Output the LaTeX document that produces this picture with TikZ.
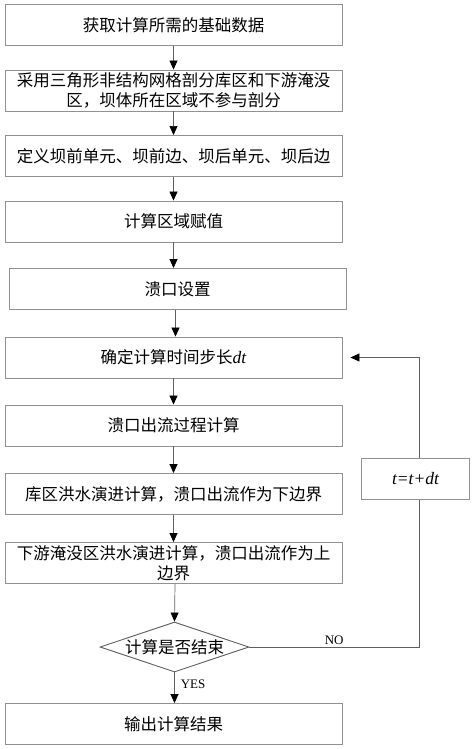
\documentclass[tikz,border=0pt]{standalone}
\usepackage{fontspec}
\setmainfont{Liberation Serif}
\newfontfamily\cjk{Noto Sans CJK SC}
\usepackage{xcolor}
\definecolor{fcgray}{RGB}{145,145,145}
\definecolor{fcline}{RGB}{95,95,95}
\usepackage{tikz}
\usetikzlibrary{arrows.meta, positioning, shapes.geometric}

\begin{document}
\begin{tikzpicture}[x=1pt, y=-1pt,
  fbox/.style={rectangle, draw=fcgray, line width=0.9pt, minimum width=337pt,
               minimum height=41pt, inner sep=0pt, align=center,
               font=\cjk\fontsize{16.5}{19.5}\selectfont},
  fdec/.style={diamond, draw=fcline, line width=0.9pt, aspect=3, inner sep=0pt,
               minimum width=149pt, minimum height=50pt,
               font=\cjk\fontsize{16.5}{19.5}\selectfont},
  farr/.style={draw=fcline, line width=0.7pt,
               -{Triangle[length=9pt, width=8pt, color=black]}},
  fline/.style={draw=fcline, line width=0.9pt},
  flbl/.style={font=\fontsize{13}{15}\selectfont, inner sep=2pt}
]
\useasboundingbox (0,0) rectangle (474,749);

% Preparation
\node[fbox] (data) at (173.5,25) {获取计算所需的基础数据};
\node[fbox] (mesh) at (173.5,90.5) {采用三角形非结构网格剖分库区和下游淹没\\区，坝体所在区域不参与剖分};
\node[fbox] (dam) at (173.5,156) {定义坝前单元、坝前边、坝后单元、坝后边};
\node[fbox] (assign) at (173.5,221.5) {计算区域赋值};
\node[fbox] (breach) at (177.5,289) {溃口设置};

% Time loop
\node[fbox] (tstep) at (173.5,357.5) {确定计算时间步长{\rmfamily\itshape\fontsize{17.5}{19.5}\selectfont dt}};
\node[fbox] (outflow) at (173.5,425.5) {溃口出流过程计算};
\node[fbox] (reservoir) at (173.5,494) {库区洪水演进计算，溃口出流作为下边界};
\node[fbox] (downstream) at (173.5,563) {下游淹没区洪水演进计算，溃口出流作为上\\边界};
\node[fdec] (finish) at (174.5,647) {计算是否结束};
\node[fbox, minimum width=108pt] (incr) at (415.5,479) {\rmfamily\itshape\fontsize{17.5}{19.5}\selectfont t=t+dt};

% Output
\node[fbox] (result) at (173.5,724) {输出计算结果};

% Main arrows
\draw[farr] (data) -- (mesh);
\draw[farr] (mesh) -- (dam);
\draw[farr] (dam) -- (assign);
\draw[farr] (assign.south) -- (assign.south |- breach.north);
\draw[farr] ([xshift=-2pt]breach.south) -- ([xshift=-2pt]breach.south |- tstep.north);
\draw[farr] (tstep) -- (outflow);
\draw[farr] (outflow) -- (reservoir);
\draw[farr] (reservoir) -- (downstream);
\draw[farr] ([xshift=1.5pt]downstream.south) -- (finish.north);
\draw[farr] (finish.south) -- node[flbl, right, pos=0.4, xshift=4pt] {YES} (finish.south |- result.north);

% Loop back
\coordinate (loopr) at (419,647);
\draw[fline] (finish.east) -- node[flbl, above, pos=0.5] {NO} (loopr) -- (loopr |- incr.south);
\draw[farr, fline, shorten >=8pt] (loopr |- incr.north) |- (tstep.east);
\end{tikzpicture}
\end{document}
